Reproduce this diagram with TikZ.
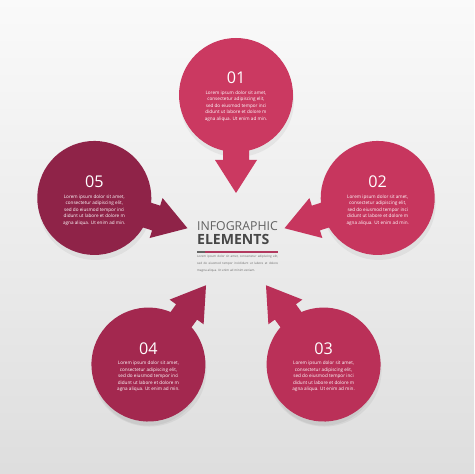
\documentclass[tikz,border=0pt]{standalone}
\usepackage{fontspec}
\setmainfont{Open Sans}
\usetikzlibrary{calc}

\definecolor{ballA}{RGB}{203,57,97}
\definecolor{ballB}{RGB}{199,54,94}
\definecolor{ballC}{RGB}{186,48,88}
\definecolor{ballD}{RGB}{163,40,79}
\definecolor{ballE}{RGB}{143,35,72}
\definecolor{barpink}{RGB}{178,58,96}

\begin{document}
\begin{tikzpicture}[x=0.5mm, y=0.5mm,
  num/.style={text=white, inner sep=0pt, font=\fontsize{23}{23}\selectfont},
  lorem/.style={text=white, align=center, inner sep=0pt, font=\fontsize{6.6}{9.3}\selectfont},
  shadowball/.style={black, opacity=0.05}]

% the background
\shade[top color=black!2, bottom color=black!13] (0,0) rectangle (474,474);
\useasboundingbox (0,0) rectangle (474,474);

% centres of the balls
\coordinate (ctr) at (236,230);
\coordinate (c1) at ($(ctr)+(90:149)$);
\coordinate (c2) at ($(ctr)+(18:149)$);
\coordinate (c3) at ($(ctr)+(-54:149)$);
\coordinate (c4) at ($(ctr)+(-126:149)$);
\coordinate (c5) at ($(ctr)+(162:149)$);

% soft shadows
\fill[shadowball] ($(c1)+(1,-6)$) ellipse (57 and 56);
\fill[shadowball] ($(c2)+(1,-6)$) ellipse (57 and 56);
\fill[shadowball] ($(c3)+(1,-6)$) ellipse (57 and 56);
\fill[shadowball] ($(c4)+(1,-6)$) ellipse (57 and 56);
\fill[shadowball] ($(c5)+(1,-6)$) ellipse (57 and 56);
\fill[shadowball] ($(c3)+(0,-9)$) ellipse (53 and 52);
\fill[shadowball] ($(c4)+(0,-9)$) ellipse (53 and 52);

% 01
\begin{scope}[shift={(c1)}, rotate=-90]
\fill[ballA] (0,0) circle (57);
\fill[ballA] (0,-13) -- (65,-13) -- (65,-21) -- (98,0) -- (65,21) -- (65,13) -- (0,13) -- cycle;
\end{scope}

% 02
\begin{scope}[shift={(c2)}, rotate=198]
\fill[ballB] (0,0) circle (57);
\fill[ballB] (0,-13) -- (65,-13) -- (65,-21) -- (98,0) -- (65,21) -- (65,13) -- (0,13) -- cycle;
\end{scope}

% 03
\begin{scope}[shift={(c3)}, rotate=126]
\fill[ballC] (0,0) circle (57);
\fill[ballC] (0,-13) -- (65,-13) -- (65,-21) -- (98,0) -- (65,21) -- (65,13) -- (0,13) -- cycle;
\end{scope}

% 04
\begin{scope}[shift={(c4)}, rotate=54]
\fill[ballD] (0,0) circle (57);
\fill[ballD] (0,-13) -- (65,-13) -- (65,-21) -- (98,0) -- (65,21) -- (65,13) -- (0,13) -- cycle;
\end{scope}

% 05
\begin{scope}[shift={(c5)}, rotate=-18]
\fill[ballE] (0,0) circle (57);
\fill[ballE] (0,-13) -- (65,-13) -- (65,-21) -- (98,0) -- (65,21) -- (65,13) -- (0,13) -- cycle;
\end{scope}

% numbers and texts
\node[num] (n1) at ($(c1)+(0,17)$) {01};
\node[num] (n2) at ($(c2)+(0,16)$) {02};
\node[num] (n3) at ($(c3)+(0,16)$) {03};
\node[num] (n4) at ($(c4)+(0,16)$) {04};
\node[num] (n5) at ($(c5)+(0,16)$) {05};

\node[lorem] (t1) at ($(c1)+(0,-11)$) {Lorem ipsum dolor sit amet,\\consectetur adipiscing elit,\\sed do eiusmod tempor inci\\didunt ut labore et dolore m\\agna aliqua. Ut enim ad min.};
\node[lorem] (t2) at ($(c2)+(0,-12)$) {Lorem ipsum dolor sit amet,\\consectetur adipiscing elit,\\sed do eiusmod tempor inci\\didunt ut labore et dolore m\\agna aliqua. Ut enim ad min.};
\node[lorem] (t3) at ($(c3)+(0,-12)$) {Lorem ipsum dolor sit amet,\\consectetur adipiscing elit,\\sed do eiusmod tempor inci\\didunt ut labore et dolore m\\agna aliqua. Ut enim ad min.};
\node[lorem] (t4) at ($(c4)+(0,-12)$) {Lorem ipsum dolor sit amet,\\consectetur adipiscing elit,\\sed do eiusmod tempor inci\\didunt ut labore et dolore m\\agna aliqua. Ut enim ad min.};
\node[lorem] (t5) at ($(c5)+(0,-12)$) {Lorem ipsum dolor sit amet,\\consectetur adipiscing elit,\\sed do eiusmod tempor inci\\didunt ut labore et dolore m\\agna aliqua. Ut enim ad min.};

% title in the middle
\node[anchor=base west, inner sep=0pt, text=black!62, font=\fontsize{17.5}{17.5}\selectfont] (title) at (197,243) {INFOGRAPHIC};
\node[anchor=base west, inner sep=0pt, text=black!72, font=\fontsize{20}{20}\selectfont\bfseries] (sub) at (197,229) {ELEMENTS};
\draw[line width=2.5pt, black!60] (197,222) -- (205,222);
\draw[line width=2.5pt, barpink] (205,222) -- (278,222);
\node[anchor=north west, inner sep=0pt, text width=40.5mm, align=justify, text=black!60, font=\fontsize{4.3}{10}\selectfont] (blurb) at (197,218.5) {Lorem ipsum dolor sit amet, consectetur adipiscing elit, sed do eiusmod tempor incididunt ut labore et dolore magna aliqua. Ut enim ad minim veniam.};

\end{tikzpicture}
\end{document}
